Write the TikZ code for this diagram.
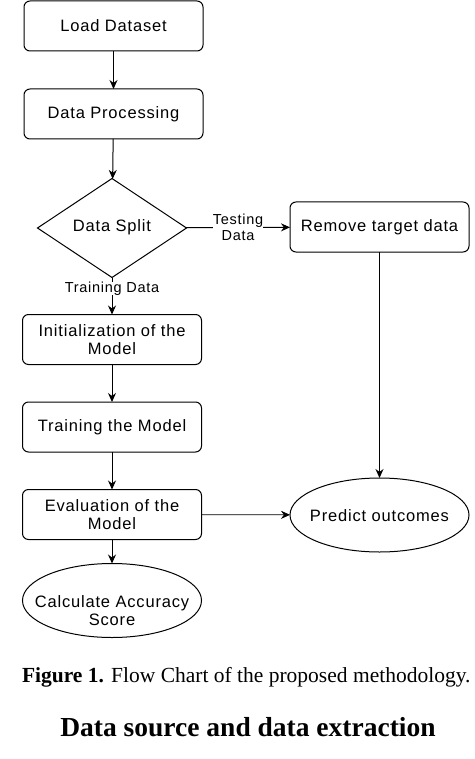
\documentclass[tikz,border=0pt]{standalone}
\usepackage{fontspec}
\setmainfont{Liberation Serif}
\newfontfamily\boxfont[LetterSpace=5]{Liberation Sans}
\usetikzlibrary{shapes.geometric,arrows.meta}
\newcommand{\zerowidth}[1]{\makebox[0pt]{\begin{tabular}{@{}c@{}}#1\end{tabular}}}
\newcommand{\zerowidthlow}[2]{\makebox[0pt]{\raisebox{#1}[0pt][0pt]{\begin{tabular}{@{}c@{}}#2\end{tabular}}}}
\begin{document}
\begin{tikzpicture}[x=1pt,y=-1pt,
  every node/.style={inner sep=0pt, outer sep=0pt},
  boxtext/.style={font=\boxfont\fontsize{16.5}{17.5}\selectfont},
  procbox/.style={draw, line width=1pt, rounded corners=6pt, minimum width=179pt, minimum height=50pt, align=center, boxtext},
  decbox/.style={draw, line width=1pt, diamond, minimum width=149pt, minimum height=99pt, aspect=1.5, boxtext},
  termbox/.style={draw, line width=1pt, ellipse, minimum width=179pt, minimum height=74pt, align=center, boxtext},
  edgelabel/.style={fill=white, align=center, font=\boxfont\fontsize{14.5}{16}\selectfont},
  flow/.style={line width=1pt, -{Stealth[length=9pt,width=8pt]}},
  thinflow/.style={line width=0.7pt, -{Stealth[length=9pt,width=8pt]}}
]
\useasboundingbox (0,0) rectangle (474,759);
\node[procbox] (load) at (113.5,26) {Load Dataset};
\node[procbox] (proc) at (113.5,114) {Data Processing};
\node[decbox] (split) at (112,228) {\zerowidth{Data Split}};
\node[procbox] (remove) at (379.5,227) {Remove target data};
\node[procbox] (init) at (112,339.5) {Initialization of the\\Model};
\node[procbox] (train) at (112,427) {Training the Model};
\node[procbox] (eval) at (112,514.5) {Evaluation of the\\Model};
\node[termbox] (acc) at (112,600.5) {\zerowidthlow{-17pt}{Calculate Accuracy\\Score}};
\node[termbox] (pred) at (379.5,515) {\zerowidthlow{-7.5pt}{Predict outcomes}};

\draw[flow] (load) -- (proc);
\draw[flow] (proc) -- (split);
\draw[flow] (split) -- (remove) node[edgelabel, pos=0.5] (testlbl) {Testing\\Data};
\draw[flow] (split) -- (init) node[edgelabel, pos=0.3] (trainlbl) {Training Data};
\draw[flow] (init) -- (train);
\draw[flow] (train) -- (eval);
\draw[flow] (eval) -- (acc);
\draw[flow] (remove) -- (pred);
\draw[thinflow] (eval) -- (pred);

\node[anchor=base west, font=\fontsize{21.5}{24}\selectfont] (cap) at (22,682) {\textbf{Figure 1.} Flow Chart of the proposed methodology.};
\node[anchor=base, font=\bfseries\fontsize{27.5}{30}\selectfont] (head) at (248,736) {Data source and data extraction};
\end{tikzpicture}
\end{document}
